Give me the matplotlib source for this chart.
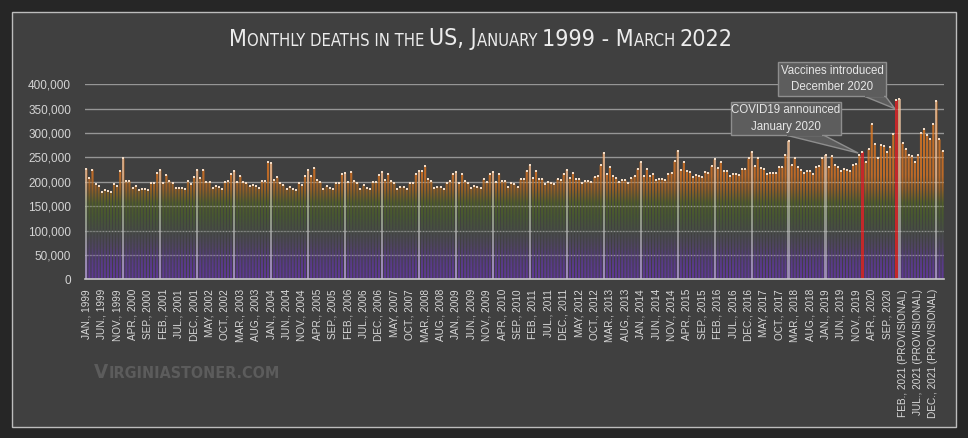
import numpy as np
import matplotlib
matplotlib.use('Agg')
import matplotlib.pyplot as plt
from matplotlib.colors import LinearSegmentedColormap
from matplotlib.patches import Rectangle, Polygon
from matplotlib.path import Path

# monthly deaths, Jan 1999 - Mar 2022 (thousands)
deaths_k = [
    # 1999
    227, 207, 225, 195, 191, 179, 184, 181, 179, 195, 191, 222,
    # 2000
    248, 201, 201, 188, 191, 183, 186, 186, 184, 198, 197, 219,
    # 2001
    225, 198, 214, 201, 198, 188, 188, 188, 186, 201, 195, 209,
    # 2002
    225, 207, 225, 199, 199, 187, 191, 190, 186, 199, 201, 217,
    # 2003
    223, 199, 212, 199, 197, 191, 193, 191, 188, 201, 201, 240,
    # 2004
    238, 204, 209, 197, 194, 186, 190, 186, 183, 197, 193, 212,
    # 2005
    225, 212, 229, 203, 199, 186, 191, 188, 185, 197, 197, 217,
    # 2006
    218, 199, 221, 201, 198, 186, 193, 188, 186, 200, 199, 213,
    # 2007
    221, 204, 217, 201, 198, 186, 190, 190, 186, 197, 198, 215,
    # 2008
    223, 222, 232, 205, 201, 188, 190, 190, 186, 198, 201, 217,
    # 2009
    221, 198, 215, 201, 198, 188, 192, 190, 188, 205, 199, 215,
    # 2010
    221, 199, 217, 201, 202, 190, 197, 195, 190, 205, 205, 223,
    # 2011
    234, 208, 223, 206, 206, 195, 200, 198, 195, 206, 203, 217,
    # 2012
    225, 207, 219, 206, 206, 198, 202, 202, 199, 210, 212, 234,
    # 2013
    260, 215, 231, 211, 208, 199, 203, 203, 198, 208, 212, 227,
    # 2014
    241, 211, 227, 212, 215, 203, 206, 206, 203, 217, 219, 242,
    # 2015
    264, 225, 241, 223, 221, 209, 214, 212, 209, 221, 219, 232,
    # 2016
    246, 228, 241, 223, 222, 212, 217, 217, 214, 226, 226, 248,
    # 2017
    262, 232, 249, 229, 227, 217, 219, 219, 219, 230, 230, 256,
    # 2018
    284, 234, 249, 231, 224, 219, 222, 222, 215, 231, 232, 248,
    # 2019
    255, 231, 252, 234, 231, 223, 227, 225, 222, 234, 236, 255,
    # 2020
    262, 241, 267, 318, 277, 249, 275, 274, 262, 271, 298, 367,
    # 2021 (provisional)
    370, 279, 267, 255, 253, 241, 255, 301, 308, 296, 287, 318,
    # 2022 (provisional)
    366, 287, 264,
]
deaths = np.array(deaths_k) * 1000

first_year = 1999
month_abbr = ['JAN.', 'FEB.', 'MAR.', 'APR.', 'MAY', 'JUN.',
              'JUL.', 'AUG.', 'SEP.', 'OCT.', 'NOV.', 'DEC.']
provisional_from = 2021
highlight_months = [252, 263]  # Jan 2020, Dec 2020
notes = ['COVID19 announced\nJanuary 2020', 'Vaccines introduced\nDecember 2020']
y_ticks = [0, 50000, 100000, 150000, 200000, 250000, 300000, 350000, 400000]

n = len(deaths)
x = np.arange(n)
labels = []
for i in range(n):
    yr = first_year + i // 12
    lab = f"{month_abbr[i % 12]}, {yr}"
    if yr >= provisional_from:
        lab += ' (PROVISIONAL)'
    labels.append(lab)

W, H = 968, 438
fig = plt.figure(figsize=(W / 100, H / 100), dpi=100)
fig.patch.set_facecolor('#262626')

# inner panel with light border
fig.add_artist(Rectangle((12 / W, 1 - 427 / H), (956 - 12) / W, (427 - 12) / H,
                         transform=fig.transFigure, facecolor='#404040',
                         edgecolor='#bdbdbd', lw=1.0, zorder=0))

ax = fig.add_axes([84.8 / W, 1 - 279.3 / H, 859.3 / W, 195.0 / H])
ax.set_facecolor('none')
ax.set_xlim(-0.5, n - 0.5)
ax.set_ylim(0, 400000)

for s in ['top', 'right', 'left']:
    ax.spines[s].set_visible(False)
ax.spines['bottom'].set_color('#c8c8c8')
ax.spines['bottom'].set_linewidth(1.2)
ax.spines['bottom'].set_zorder(6)

ax.set_yticks(y_ticks)
ax.set_yticklabels([f"{v:,}" for v in y_ticks])
ax.yaxis.grid(True, color='#888888', lw=1.0, zorder=0)
ax.set_axisbelow(True)
ax.tick_params(axis='y', length=0, pad=10, labelsize=8.5, labelcolor='#d4d4d4')

tick_idx = list(range(0, n, 5))
ax.set_xticks(tick_idx)
ax.set_xticklabels([labels[i] for i in tick_idx], rotation=90, va='top', ha='center')
ax.tick_params(axis='x', length=0, pad=7, labelsize=7.2, labelcolor='#d9d9d9')
for t in ax.get_xticklabels() + ax.get_yticklabels():
    t.set_family(['Liberation Sans', 'DejaVu Sans'])

# bars: outlines only, the fill is a vertical gradient clipped to them
bars = ax.bar(x, deaths, width=0.7, color='none', lw=0, zorder=2)
grad = LinearSegmentedColormap.from_list('deaths', [
    (0.00, '#61399a'),
    (0.08, '#5a3b8c'),
    (0.16, '#514467'),
    (0.25, '#484f45'),
    (0.32, '#485a31'),
    (0.39, '#536029'),
    (0.46, '#976126'),
    (0.53, '#c46d26'),
    (1.00, '#d47827'),
])
img = ax.imshow(np.linspace(0, 1, 400).reshape(-1, 1), cmap=grad, aspect='auto',
                origin='lower', extent=(-0.5, n - 0.5, 0, 400000), zorder=2,
                interpolation='bilinear', alpha=0.95)
paths = [b.get_path().transformed(b.get_patch_transform()) for b in bars]
img.set_clip_path(Path.make_compound_path(*paths), ax.transData)

# January bars lighter
jan = [i for i in range(0, n, 12) if i not in highlight_months]
ax.bar(jan, deaths[jan], width=0.7, color='white', alpha=0.4, lw=0, zorder=3)

# red highlight bars
ax.bar(highlight_months, deaths[highlight_months], width=0.75, color='#c3282a', lw=0, zorder=3)

# faint grid on top of the bars
for v in y_ticks[1:]:
    ax.axhline(v, color='white', alpha=0.12, lw=0.8, zorder=4)

# small light caps on each bar
ax.scatter(x, deaths, marker='s', s=2.2, color='#f3dcc6', lw=0, zorder=5)


def callout(text, x0, x1, y0, y1, base0, base1, tip):
    # box spans x0..x1 (months) and y0..y1 (deaths); tail from base0..base1 on the bottom edge
    fc, ec = '#5d5d5d', '#8e8e8e'
    ax.add_patch(Polygon([(base0, y0), tip, (base1, y0)], closed=True, fc=fc, ec=ec,
                         lw=1.0, zorder=7, clip_on=False))
    ax.add_patch(Rectangle((x0, y0), x1 - x0, y1 - y0, fc=fc, ec=ec, lw=1.0,
                           zorder=8, clip_on=False))
    # hide the box edge where the tail joins it
    ax.plot([base0 + 0.4, base1 - 0.4], [y0, y0], color=fc, lw=1.4, zorder=9,
            clip_on=False, solid_capstyle='butt')
    ax.text((x0 + x1) / 2, (y0 + y1) / 2, text, ha='center', va='center',
            fontsize=8.3, color='#e6e6e6', family=['Liberation Sans', 'DejaVu Sans'],
            linespacing=1.45, zorder=10, clip_on=False)


callout(notes[0], 209.3, 245.0, 296000, 363600, 227.0, 239.3, (250.6, 259000))
callout(notes[1], 224.6, 259.6, 376000, 445000, 252.4, 259.4, (262.5, 350000))


def small_caps(text, x_left, x_right, base_y, big, small, color, weight='normal'):
    """draw text in fake small caps, stretched to fill x_left..x_right (pixels)"""
    r = fig.canvas.get_renderer()
    runs = []
    sz = big
    for ch in text:
        if ch.islower():
            sz = small
        elif ch.isupper() or ch.isdigit():
            sz = big
        if runs and runs[-1][1] == sz:
            runs[-1][0] += ch.upper()
        else:
            runs.append([ch.upper(), sz])
    arts = []
    for s, size in runs:
        t = fig.text(0, 1 - base_y / H, s, fontsize=size, color=color, family='DejaVu Sans',
                     weight=weight, stretch='condensed', va='baseline', ha='left')
        arts.append(t)
    total = sum(t.get_window_extent(r).width for t in arts)
    k = (x_right - x_left) / total
    for t in arts:
        t.set_fontsize(t.get_fontsize() * k)
    xp = x_left
    for t in arts:
        t.set_x(xp / W)
        xp += t.get_window_extent(r).width


small_caps('Monthly deaths in the US, January 1999 - March 2022', 229, 733, 45.5,
           17.5, 12.5, '#ececec')
small_caps('Virginiastoner.com', 94, 278, 378.5, 14, 11, '#5c5c5c', weight='bold')

fig.savefig('out.png', dpi=100, facecolor=fig.get_facecolor())
